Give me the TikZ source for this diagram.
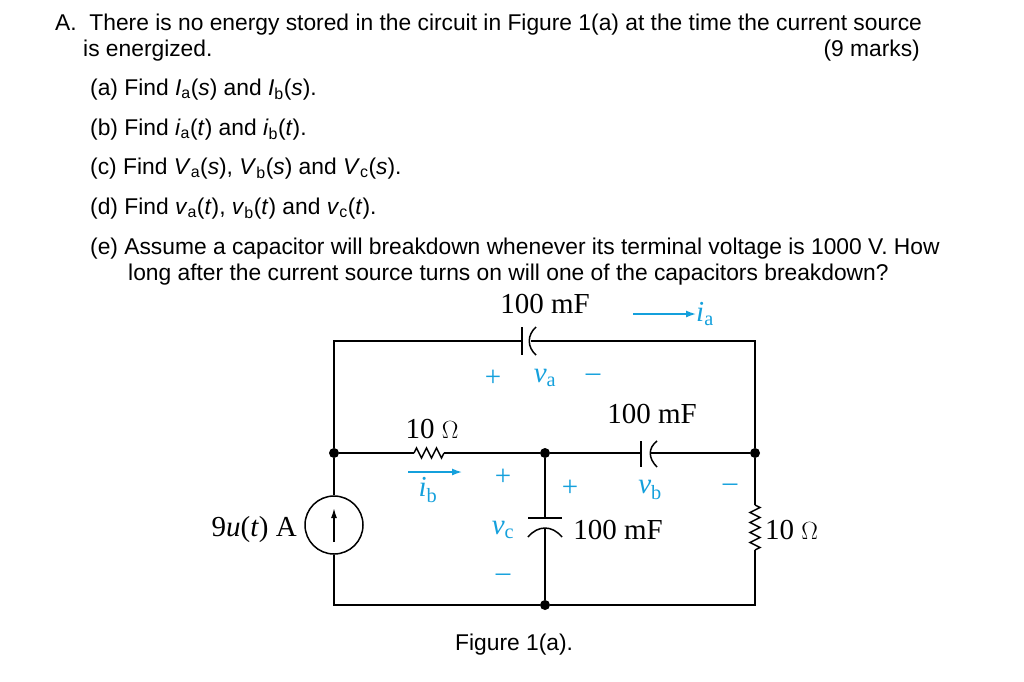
\documentclass[tikz,border=0pt]{standalone}
\usepackage{fontspec}
\setmainfont{Liberation Sans}
\newfontfamily\ser{Liberation Serif}
\usetikzlibrary{arrows.meta,decorations.pathmorphing}
\definecolor{cb}{RGB}{20,160,220}
\begin{document}
\begin{tikzpicture}[x=1pt,y=-1pt,
 q/.style={anchor=base west,inner sep=0,font=\fontsize{22.8}{26}\selectfont},
 lab/.style={inner sep=0,font=\ser\fontsize{29}{32}\selectfont},
 bl/.style={lab,text=cb},
 w/.style={line width=1.5pt},
 zz/.style={w,decorate,decoration={zigzag,segment length=10pt,amplitude=5pt}},
 dot/.style={circle,fill,inner sep=0,minimum size=10pt},
 barr/.style={cb,line width=1.4pt,-{Latex[length=10pt,width=7pt]}}]
\useasboundingbox (0,0) rectangle (1024,681);
\node[q] (t1) at (55,30) {A.\ \ There is no energy stored in the circuit in Figure 1(a) at the time the current source};
\node[q] (t2) at (83,56) {is energized.};
\node[q,anchor=base east] (t3) at (920,56) {(9 marks)};
\node[q] (t4) at (90,95) {(a) Find \textit{I}\textsubscript{a}(\textit{s}) and \textit{I}\textsubscript{b}(\textit{s}).};
\node[q] (t5) at (90,135) {(b) Find \textit{i}\textsubscript{a}(\textit{t}) and \textit{i}\textsubscript{b}(\textit{t}).};
\node[q] (t6) at (90,174) {(c) Find \textit{V}\textsubscript{a}(\textit{s}), \textit{V}\textsubscript{b}(\textit{s}) and \textit{V}\textsubscript{c}(\textit{s}).};
\node[q] (t7) at (90,214) {(d) Find \textit{v}\textsubscript{a}(\textit{t}), \textit{v}\textsubscript{b}(\textit{t}) and \textit{v}\textsubscript{c}(\textit{t}).};
\node[q] (t8) at (90,254) {(e) Assume a capacitor will breakdown whenever its terminal voltage is 1000 V. How};
\node[q] (t9) at (128,280) {long after the current source turns on will one of the capacitors breakdown?};
\node[q] (fig) at (455,650) {Figure 1(a).};
% nodes
\coordinate (TL) at (334,341); \coordinate (TR) at (755,341);
\node[dot] (ML) at (334,453) {}; \node[dot] (MM) at (545,453) {}; \node[dot] (MR) at (755,453) {};
\node[dot] (BM) at (545,605) {};
\coordinate (BL) at (334,605); \coordinate (BR) at (755,605);
\node[circle,draw,w,minimum size=58pt,inner sep=0] (S) at (334,525) {};
% wires
\draw[w] (S.north) -- (ML) -- (TL) -- (522,341);
\draw[w] (531,341) -- (TR) -- (MR);
\draw[w] (522,327) -- (522,355);
\draw[w] (536,327) .. controls (527,335) and (527,347) .. (536,355);
\draw[w] (S.south) -- (BL) -- (BM) -- (BR) -- (755,550);
\draw[w] (755,505) -- (MR);
\draw[zz] (755,505) -- (755,550);
\draw[w] (ML) -- (414,453);
\draw[zz] (414,453) -- (444,453);
\draw[w] (444,453) -- (MM) -- (641,453);
\draw[w] (641,441) -- (641,467);
\draw[w] (657,441) .. controls (648,448) and (648,458) .. (657,467);
\draw[w] (650,453) -- (MR);
\draw[w] (MM) -- (545,518);
\draw[w] (528,518) -- (562,518);
\draw[w] (528,537) .. controls (538,525) and (552,525) .. (562,537);
\draw[w] (545,528) -- (BM);
\draw[w,-{Latex[length=10pt,width=6pt]}] (334,542) -- (334,508);
% labels
\node[lab] (l1) at (545,304) {100 mF};
\node[lab] (l2) at (652,414) {100 mF};
\node[lab] (l3) at (618,530) {100 mF};
\node[lab] (l4) at (432,429) {10 $\Omega$};
\node[lab,anchor=west] (l5) at (765,530) {10 $\Omega$};
\node[lab,anchor=east] (l6) at (297,530) {9\textit{u}(\textit{t}) A};
\node[bl] at (493,378) {+}; \node[bl] at (545,378) {\textit{v}\textsubscript{a}}; \node[bl] at (593,378) {\textendash};
\node[bl] at (503,477) {+}; \node[bl] at (570,488) {+}; \node[bl] at (650,490) {\textit{v}\textsubscript{b}}; \node[bl] at (730,488) {\textendash};
\node[bl] at (503,530) {\textit{v}\textsubscript{c}}; \node[bl] at (503,578) {\textendash};
\node[bl] (ia) at (705,314) {\textit{i}\textsubscript{a}};
\node[bl] (ib) at (428,490) {\textit{i}\textsubscript{b}};
\coordinate (ia0) at (633,314); \coordinate (ib0) at (408,472);
\draw[barr] (ia0) -- (ia.west);
\draw[barr] (ib0) -- (462,472);
\end{tikzpicture}
\end{document}
